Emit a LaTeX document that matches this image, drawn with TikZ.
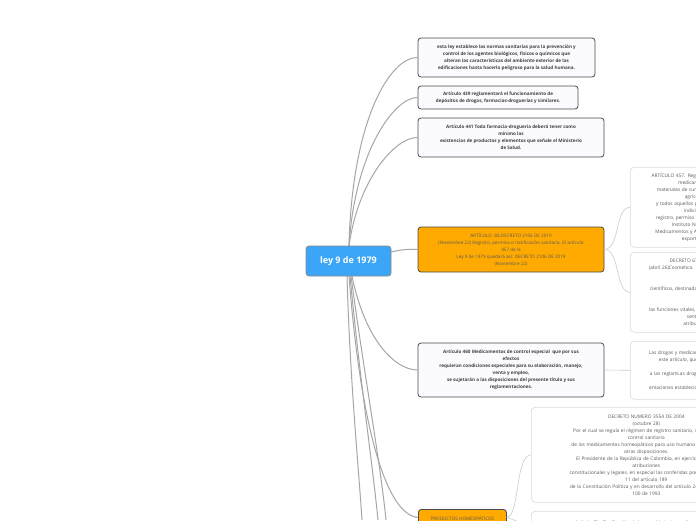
\documentclass[tikz,border=0pt]{standalone}
\usepackage{fontspec}
\setmainfont{Open Sans}
\definecolor{rootblue}{HTML}{3BA6F7}
\definecolor{orng}{HTML}{FFAA00}
\begin{document}
\begin{tikzpicture}[x=1pt,y=-1pt,
 every node/.style={inner sep=0pt},
 leaf/.style={draw=black!70,line width=0.8pt,rounded corners=3pt,fill=blue!2,align=center,font=\fontsize{4.6}{7}\selectfont\bfseries,text=black!75},
 orange/.style={draw=black!70,line width=0.8pt,rounded corners=3pt,fill=orng,align=center,font=\fontsize{4.6}{7}\selectfont,text=black!65},
 sub/.style={draw=black!15,line width=0.6pt,rounded corners=4pt,fill=white,align=center,font=\fontsize{4.8}{7}\selectfont,text=black!65},
 link/.style={draw=black!35,line width=1pt},
 thin/.style={draw=black!20,line width=0.6pt}]
\useasboundingbox (0,0) rectangle (696,520);
\clip (0,0) rectangle (696,520);
\fill[white] (0,0) rectangle (696,520);
\coordinate (rt) at (349,246);
\coordinate (d1) at (362,520);
\coordinate (d2) at (378,520);
\coordinate (d3) at (386,520);
\node[leaf,minimum width=177pt,minimum height=39pt] (A) at (506.5,57.5) {esta ley establece las normas sanitarias para la prevención y\\control de los agentes biológicos, físicos o químicos que\\alteran las características del ambiente exterior de las\\edificaciones hasta hacerlo peligroso para la salud humana.};
\node[leaf,minimum width=160pt,minimum height=23pt] (B) at (498,97.5) {Artículo 439 reglamentará el funcionamiento de\\depósitos de drogas, farmacias-droguerías y similares.};
\node[leaf,minimum width=186pt,minimum height=39pt] (C) at (511,137.5) {Artículo 441 Toda farmacia-droguería deberá tener como\\mínimo las\\existencias de productos y elementos que señale el Ministerio\\de Salud.};
\node[orange,minimum width=186pt,minimum height=45pt] (D) at (511,249.5) {ARTÍCULO\ \ 88.DECRETO 2106 DE 2019\\(Noviembre 22) Registro, permiso o notificación sanitaria. El artículo\\457 de la\\Ley 9 de 1979 quedará así: DECRETO 2106 DE 2019\\(Noviembre 22)};
\node[leaf,minimum width=186pt,minimum height=54pt] (E) at (511,370) {Artículo 460 Medicamentos de control especial\ \ que por sus\\efectos\\requieran condiciones especiales para su elaboración, manejo,\\venta y empleo,\\se sujetarán a las disposiciones del presente título y sus\\reglamentaciones.};
\node[orange,minimum width=88pt,minimum height=16pt,anchor=north west] (F) at (418,509) {\raisebox{0pt}[6pt][0pt]{PRODUCTOS HOMEOPÁTICOS}};
\node[sub,minimum width=130pt,minimum height=80pt,anchor=north west,text width=126pt] (G1) at (630,167) {ARTÍCULO\ 457. Registros sanitarios de\\medicamentos,\\materiales de curación, productos\\agrícolas,\\y todos aquellos productos de uso\\individual,\\registro, permiso o notificación del\\Instituto Nacional de\\Medicamentos y Alimentos para su\\exportación};
\node[sub,minimum width=130pt,minimum height=80pt,anchor=north west,text width=126pt] (G2) at (630,252) {DECRETO 677 DE 1995\\(abril 26)Cosmético. Es toda formulación\\[14pt]científicos, destinada al cuerpo humano\\[14pt]las funciones vitales, o para modificar su\\sentido\\atribuibles};
\node[sub,minimum width=130pt,minimum height=58pt,anchor=north west,text width=126pt] (H) at (630,341) {Las drogas y medicamentos de que trata\\este artículo, quedan sometidos\\[7pt]a las reglamLas drogas y medicamentos\\[7pt]entaciones establecidas por el Ministerio};
\node[sub,minimum width=230pt,minimum height=95pt,anchor=north west,text width=226pt] (I) at (531,407) {DECRETO NUMERO 3554 DE 2004\\(octubre 28)\\Por el cual se regula el régimen de registro sanitario, vigilancia y\\control sanitario\\de los medicamentos homeopáticos para uso humano y se dictan\\otras disposiciones.\\El Presidente de la República de Colombia, en ejercicio de sus\\atribuciones\\constitucionales y legales, en especial las conferidas por el numeral\\11 del artículo 189\\de la Constitución Política y en desarrollo del artículo 245 de la Ley\\100 de 1993};
\node[sub,minimum width=230pt,minimum height=30pt,anchor=north west,text width=226pt] (J) at (531,511) {Artículo 7º. Clasificación de los establecimientos farmacéuticos\\homeopáticos};
\draw[link] (rt) .. controls (352,120) and (390,57) .. (A.west);
\draw[link] (rt) .. controls (355,150) and (395,97) .. (B.west);
\draw[link] (rt) .. controls (358,180) and (395,137) .. (C.west);
\draw[link] (391,252) .. controls (400,250) and (405,249) .. (D.west);
\draw[link] (352,276) .. controls (365,340) and (395,370) .. (E.west);
\draw[link] (349,276) .. controls (360,420) and (385,515) .. (F.west);
\draw[link] (347,276) .. controls (350,380) and (358,460) .. (d1);
\draw[link] (350,276) .. controls (360,380) and (372,460) .. (d2);
\draw[link] (351,276) .. controls (365,380) and (380,460) .. (d3);
\draw[thin] (D.east) .. controls (620,249) and (615,207) .. (G1.west);
\draw[thin] (D.east) .. controls (620,249) and (615,292) .. (G2.west);
\draw[thin] (E.east) -- (H.west);
\draw[thin] (F.east) .. controls (520,516) and (515,455) .. (I.west);
\draw[thin] (F.east) -- (J.west);
\node[draw=black!45,line width=0.8pt,rounded corners=3pt,fill=rootblue,minimum width=85pt,minimum height=30pt,font=\fontsize{9}{11}\selectfont\bfseries,text=white] (root) at (348.5,261) {ley 9 de 1979};
\end{tikzpicture}
\end{document}
